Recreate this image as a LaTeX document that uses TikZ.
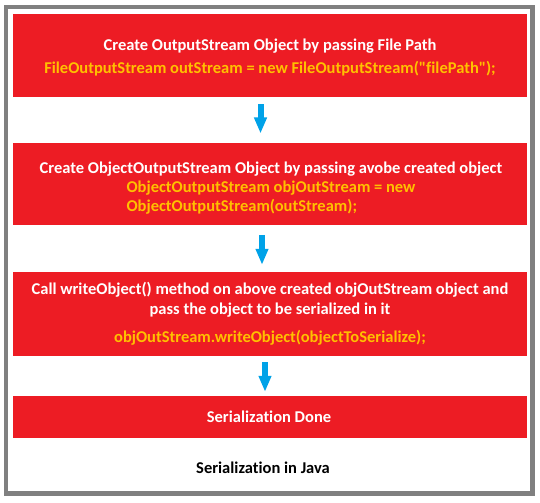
\documentclass[tikz,border=0pt]{standalone}
\usepackage{fontspec}
\setmainfont{Carlito}[Ligatures={NoCommon}]
\usepackage{tikz}
\usetikzlibrary{arrows.meta,positioning}
\definecolor{boxred}{HTML}{ED1C24}
\definecolor{codeyellow}{HTML}{FFC000}
\definecolor{arrowblue}{HTML}{00A2E8}
\definecolor{framegray}{HTML}{808080}
\tikzset{
	stepbox/.style={fill=boxred, minimum width=513bp, inner sep=0pt},
	steptext/.style={text=white, inner sep=0pt, align=center, font=\bfseries\fontsize{16.5bp}{20bp}\selectfont},
	flowarrow/.style={draw=arrowblue, line width=6bp, -{Triangle[width=12bp, length=16bp, fill=arrowblue]}},
}
\newcommand{\code}[1]{{\color{codeyellow}#1}}

\begin{document}
\begin{tikzpicture}[x=1bp, y=-1bp]
		%%%%% START %%%%%
		\useasboundingbox (0, 0) rectangle (540, 503);
		
		\draw[line width=4.5bp, color=framegray] (6.2, 7.2) rectangle (532.6, 493.3);
		
		\node[stepbox, minimum height=83bp] (create) at (270, 55.5) {};
		\node[steptext] (createtext) at (270, 58) {Create OutputStream Object by passing File Path\\[3bp]
			\code{FileOutputStream outStream = new FileOutputStream(\textquotedbl filePath\textquotedbl);}};
		
		\node[stepbox, minimum height=82bp] (wrap) at (270, 183.7) {};
		\node[steptext] (wraptext) at (271, 189.5) {Create ObjectOutputStream Object by passing avobe created object\\[1.5bp]
			\code{\renewcommand{\arraystretch}{0.98}\begin{tabular}{@{}l@{}}ObjectOutputStream objOutStream = new\\ObjectOutputStream(outStream);\end{tabular}}};
		
		\node[stepbox, minimum height=84bp] (write) at (270, 314) {};
		\node[steptext] (writetext) at (270, 314) {Call writeObject() method on above created objOutStream object and\\
			pass the object to be serialized in it\\[8bp]
			\code{objOutStream.writeObject(objectToSerialize);}};
		
		\node[stepbox, minimum height=42bp] (done) at (270, 417) {};
		\node[steptext] (donetext) at (269, 417) {Serialization Done};
		
		\node[steptext, text=black] (caption) at (263, 468) {Serialization in Java};
		
		\draw[flowarrow, shorten <=7bp, shorten >=9bp] ([xshift=-9.5bp]create.south) -- ([xshift=-9.5bp]wrap.north);
		\draw[flowarrow, shorten <=10bp, shorten >=7bp] ([xshift=-8bp]wrap.south) -- ([xshift=-8bp]write.north);
		\draw[flowarrow, shorten <=6bp, shorten >=4bp] ([xshift=-5bp]write.south) -- ([xshift=-5bp]done.north);
		
		%%%%% END %%%%%
	\end{tikzpicture}
\end{document}
